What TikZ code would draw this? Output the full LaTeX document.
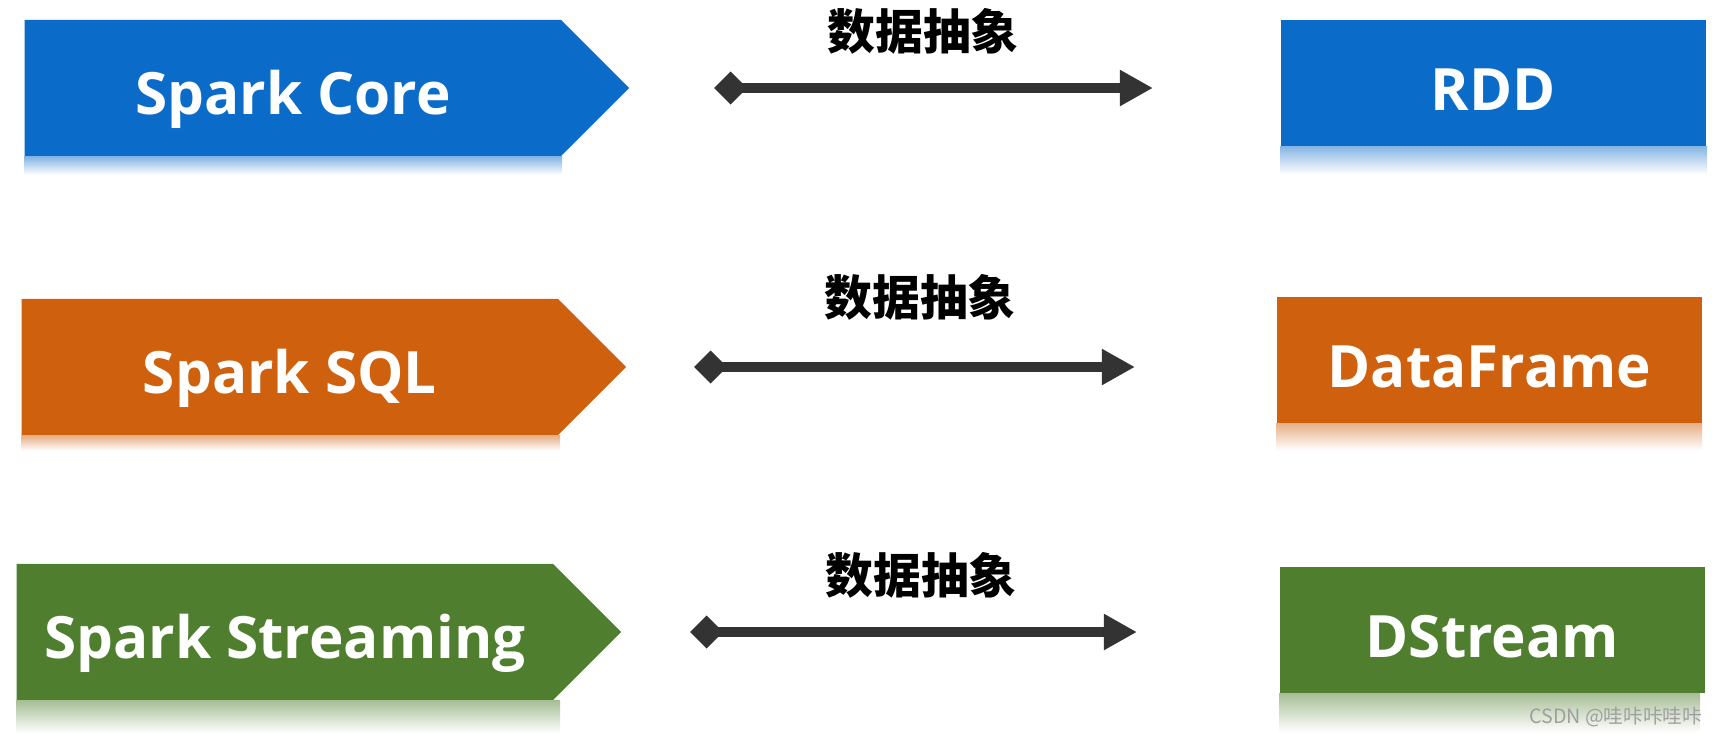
\documentclass[tikz,border=0pt]{standalone}
\usepackage{fontspec}
\setmainfont{Open Sans}
\newfontfamily\cjk{Noto Sans CJK SC}
\usepackage{tikz}
\usetikzlibrary{shapes.symbols, arrows.meta, positioning}
\definecolor{CoreBlue}{HTML}{0B6BC8}
\definecolor{SqlOrange}{HTML}{CF600E}
\definecolor{StreamGreen}{HTML}{4F7E2E}
\definecolor{ArrowGray}{HTML}{333333}
\tikzset{
  enginebox/.style={signal, signal to=east, signal pointer angle=90, fill=#1, text=white, minimum width=6.04cm, minimum height=1.36cm, inner sep=0pt, text height=0.53cm, text depth=0pt, anchor=west, font=\bfseries\fontsize{16.6}{19}\selectfont},
  abstrbox/.style={rectangle, fill=#1, text=white, minimum width=4.25cm, minimum height=1.25cm, inner sep=0pt, text height=0.54cm, text depth=0pt, anchor=west, font=\bfseries\fontsize{16.6}{19}\selectfont},
  mirrorfade/.style={top color=#1!50, bottom color=white},
  dataarrow/.style={{Diamond[length=0.33cm,width=0.33cm]}-{Triangle[length=0.33cm,width=0.34cm]}, line width=0.1cm, ArrowGray},
  abstrlabel/.style={font=\cjk\bfseries\fontsize{13.6}{15}\selectfont, inner sep=0pt},
  marklabel/.style={font=\cjk\fontsize{5.6}{7}\selectfont, text=gray!75, inner sep=0pt}
}
\begin{document}
\begin{tikzpicture}[x=0.01cm, y=-0.01cm]
  \useasboundingbox (0,0) rectangle (1718,738);
  % engines on the left
  \node[enginebox=CoreBlue] (core) at (24,88) {Spark Core};
  \node[enginebox=SqlOrange] (sql) at (21,367) {Spark SQL};
  \node[enginebox=StreamGreen] (stream) at (16,632) {Spark Streaming};
  % data abstractions on the right
  \node[abstrbox=CoreBlue] (rdd) at (1280,83) {RDD};
  \node[abstrbox=SqlOrange] (df) at (1276,360) {DataFrame};
  \node[abstrbox=StreamGreen] (ds) at (1279,630) {DStream};
  % faded reflections
  \shade[mirrorfade=CoreBlue] (core.west |- core.south) rectangle ++(538,18);
  \shade[mirrorfade=SqlOrange] (sql.west |- sql.south) rectangle ++(539,15);
  \shade[mirrorfade=StreamGreen] (stream.west |- stream.south) rectangle ++(544,32);
  \shade[mirrorfade=CoreBlue] (rdd.south west) rectangle ++(427,28);
  \shade[mirrorfade=SqlOrange] (df.south west) rectangle ++(426,27);
  \shade[mirrorfade=StreamGreen] (ds.south west) rectangle ++(421,39);
  % arrows
  \draw[dataarrow, shorten <=0.84cm, shorten >=1.27cm] (core.east) -- (core.east -| rdd.west);
  \draw[dataarrow, shorten <=0.67cm, shorten >=1.41cm] (sql.east) -- (sql.east -| df.west);
  \draw[dataarrow, shorten <=0.68cm, shorten >=1.42cm] (stream.east) -- (stream.east -| ds.west);
  \node[abstrlabel] (lab1) at (923,31) {数据抽象};
  \node[abstrlabel] (lab2) at (920,297) {数据抽象};
  \node[abstrlabel] (lab3) at (921,575) {数据抽象};
  \node[marklabel, anchor=east] (mark) at (1703,717) {CSDN @哇咔咔哇咔};
\end{tikzpicture}
\end{document}
